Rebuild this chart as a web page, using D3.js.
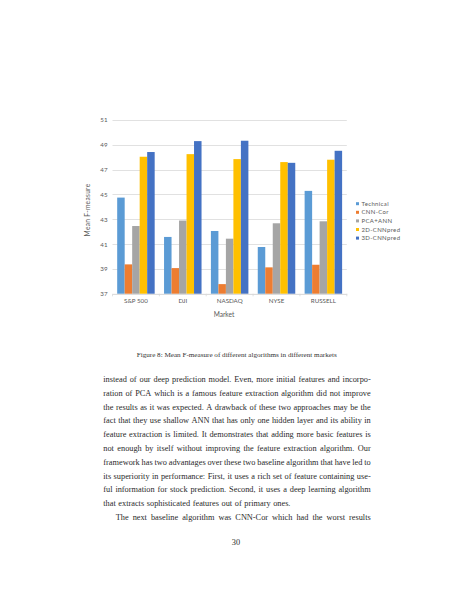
<!DOCTYPE html>
<html>
<head>
<meta charset="utf-8">
<script src="https://cdn.jsdelivr.net/npm/d3@7"></script>
<style>
  body { margin: 0; background: #fff; }
  svg { display: block; }
</style>
</head>
<body>
<div id="page"></div>
<script>
// chart data
var markets = ["S&P 500", "DJI", "NASDAQ", "NYSE", "RUSSELL"];
var algorithms = ["Technical", "CNN-Cor", "PCA+ANN", "2D-CNNpred", "3D-CNNpred"];
var technical = [44.75, 41.58, 42.06, 40.77, 45.29];
var cnnCor    = [39.37, 39.07, 37.78, 39.13, 39.34];
var pcaAnn    = [42.46, 42.90, 41.44, 42.68, 42.84];
var cnnpred2D = [48.04, 48.25, 47.85, 47.61, 47.80];
var cnnpred3D = [48.42, 49.30, 49.33, 47.55, 48.52];
var yTicks = [37, 39, 41, 43, 45, 47, 49, 51];
var colors = ["#5B9BD5", "#ED7D31", "#A5A5A5", "#FFC000", "#4472C4"];

// page text
var caption = "Figure 8: Mean F-measure of different algorithms in different markets";
var bodyLines = [
  {t: "instead of our deep prediction model. Even, more initial features and incorpo-", j: true},
  {t: "ration of PCA which is a famous feature extraction algorithm did not improve", j: true},
  {t: "the results as it was expected. A drawback of these two approaches may be the", j: true},
  {t: "fact that they use shallow ANN that has only one hidden layer and its ability in", j: true},
  {t: "feature extraction is limited. It demonstrates that adding more basic features is", j: true},
  {t: "not enough by itself without improving the feature extraction algorithm. Our", j: true},
  {t: "framework has two advantages over these two baseline algorithm that have led to", j: true},
  {t: "its superiority in performance: First, it uses a rich set of feature containing use-", j: true},
  {t: "ful information for stock prediction. Second, it uses a deep learning algorithm", j: true},
  {t: "that extracts sophisticated features out of primary ones.", j: false},
  {t: "The next baseline algorithm was CNN-Cor which had the worst results", j: true, indent: 12.4}
];

var series = [technical, cnnCor, pcaAnn, cnnpred2D, cnnpred3D];
var rows = markets.map(function(m, i) {
  return {market: m, values: algorithms.map(function(a, k) { return {algo: a, k: k, v: series[k][i]}; })};
});

var width = 474, height = 613;
var svg = d3.select("#page").append("svg")
    .attr("width", width)
    .attr("height", height);

svg.append("rect").attr("width", width).attr("height", height).attr("fill", "#fff");

// plot area
var plot = {left: 112.5, right: 346.8, top: 120, bottom: 293.8};
var chartFont = "Lato, 'Open Sans', sans-serif";

var x0 = d3.scaleBand()
    .domain(markets)
    .range([plot.left, plot.right])
    .paddingInner(0.2)
    .paddingOuter(0.1);

var x1 = d3.scaleBand()
    .domain(algorithms)
    .range([0, x0.bandwidth()]);

var y = d3.scaleLinear()
    .domain([37, 51])
    .range([plot.bottom, plot.top]);

// gridlines
svg.append("g").selectAll("line")
    .data(yTicks)
    .enter().append("line")
    .attr("x1", plot.left)
    .attr("x2", plot.right)
    .attr("y1", function(d) { return Math.round(y(d)) + 0.5; })
    .attr("y2", function(d) { return Math.round(y(d)) + 0.5; })
    .attr("stroke", "#D9D9D9")
    .attr("stroke-width", 0.8);

// y axis labels
var yAxis = svg.append("g")
    .attr("transform", "translate(" + plot.left + ",0)")
    .call(d3.axisLeft(y).tickValues(yTicks).tickSize(0).tickPadding(5).tickFormat(d3.format("d")));
yAxis.select(".domain").remove();
yAxis.selectAll("text")
    .attr("fill", "#595959")
    .style("font-family", chartFont)
    .style("font-size", "6.2px");

// bars
var groups = svg.append("g").selectAll("g")
    .data(rows)
    .enter().append("g")
    .attr("transform", function(d) { return "translate(" + x0(d.market) + ",0)"; });

groups.selectAll("rect")
    .data(function(d) { return d.values; })
    .enter().append("rect")
    .attr("x", function(d) { return x1(d.algo); })
    .attr("width", x1.bandwidth())
    .attr("y", function(d) { return y(d.v); })
    .attr("height", function(d) { return y(37) - y(d.v); })
    .attr("fill", function(d) { return colors[d.k]; });

// x axis
var xAxis = svg.append("g")
    .attr("transform", "translate(0," + plot.bottom + ")")
    .call(d3.axisBottom(x0).tickSize(0).tickPadding(4.5));
xAxis.select(".domain").attr("stroke", "#D9D9D9").attr("stroke-width", 0.8);
xAxis.selectAll("text")
    .attr("fill", "#595959")
    .style("font-family", chartFont)
    .style("font-size", "6.2px");

// category separators on the axis
var step = x0.step();
svg.append("g").selectAll("line")
    .data(d3.range(markets.length + 1))
    .enter().append("line")
    .attr("x1", function(i) { return plot.left + i * step; })
    .attr("x2", function(i) { return plot.left + i * step; })
    .attr("y1", plot.bottom)
    .attr("y2", plot.bottom + 2.5)
    .attr("stroke", "#D9D9D9")
    .attr("stroke-width", 0.8);

// axis titles
svg.append("text")
    .attr("x", 224)
    .attr("y", 316.5)
    .attr("text-anchor", "middle")
    .attr("fill", "#595959")
    .style("font-family", chartFont)
    .style("font-size", "6.6px")
    .text("Market");

svg.append("text")
    .attr("transform", "translate(90.2,210)rotate(-90)")
    .attr("text-anchor", "middle")
    .attr("fill", "#595959")
    .style("font-family", chartFont)
    .style("font-size", "6.6px")
    .style("letter-spacing", "0.3px")
    .text("Mean F-measure");

// legend
var legend = svg.append("g").selectAll("g")
    .data(algorithms)
    .enter().append("g")
    .attr("transform", function(d, i) { return "translate(356," + (203.7 + i * 8.6) + ")"; });

legend.append("rect")
    .attr("x", 0)
    .attr("y", -1.5)
    .attr("width", 3)
    .attr("height", 3)
    .attr("fill", function(d, i) { return colors[i]; });

legend.append("text")
    .attr("x", 5.5)
    .attr("y", 2.1)
    .attr("fill", "#595959")
    .style("font-family", chartFont)
    .style("font-size", "6px")
    .style("letter-spacing", "0.35px")
    .text(function(d) { return d; });

// caption
var serif = "'Liberation Serif', 'DejaVu Serif', serif";
svg.append("text")
    .attr("x", 136.7)
    .attr("y", 357.3)
    .attr("textLength", 200)
    .attr("lengthAdjust", "spacingAndGlyphs")
    .attr("fill", "#333")
    .style("font-family", serif)
    .style("font-size", "6.8px")
    .text(caption);

// body text, justified word by word
var textLeft = 103.3, textRight = 370.7;
var firstY = 382, lineGap = 13.8;
var body = svg.append("g")
    .attr("fill", "#2a2a2a")
    .style("font-family", serif)
    .style("font-size", "8.3px");

bodyLines.forEach(function(line, i) {
  var yy = firstY + i * lineGap;
  var start = textLeft + (line.indent || 0);
  var words = line.t.split(" ");
  var nodes = words.map(function(w) {
    return body.append("text").attr("y", yy).text(w);
  });
  var widths = nodes.map(function(n) { return n.node().getComputedTextLength(); });
  var gap = line.j ? (textRight - start - d3.sum(widths)) / (words.length - 1) : 2.6;
  var xx = start;
  nodes.forEach(function(n, k) {
    n.attr("x", xx);
    xx += widths[k] + gap;
  });
});

// page number
svg.append("text")
    .attr("x", 236)
    .attr("y", 544.5)
    .attr("text-anchor", "middle")
    .attr("fill", "#2a2a2a")
    .style("font-family", serif)
    .style("font-size", "8.3px")
    .text("30");
</script>
</body>
</html>
